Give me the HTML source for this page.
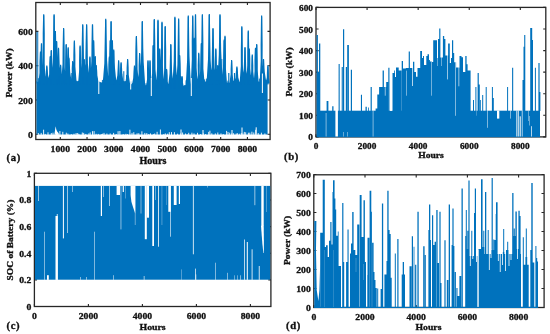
<!DOCTYPE html>
<html lang="en"><head><meta charset="utf-8"><title>Figure</title>
<style>html,body{margin:0;padding:0;background:#fff}svg{display:block}text{font-family:'Liberation Serif', serif;font-weight:bold;fill:#111;stroke:#111;stroke-width:.34px}</style>
</head><body>
<svg width="550" height="334" viewBox="0 0 550 334">
<rect width="550" height="334" fill="#fff"/>
<defs>
<clipPath id="clip-a"><rect x="36.3" y="3.0" width="233.30" height="137.10"/></clipPath>
<clipPath id="clip-b"><rect x="316.5" y="7.9" width="228.80" height="129.60"/></clipPath>
<clipPath id="clip-c"><rect x="34.9" y="173.8" width="235.50" height="133.30"/></clipPath>
<clipPath id="clip-d"><rect x="314.3" y="175.3" width="229.30" height="132.80"/></clipPath>
</defs>
<g id="plot-a">
<path d="M60.30 139.5v-2.6M60.30 2.5v2.6" stroke="#262626" stroke-width="1.1" fill="none"/>
<text transform="translate(60.3 152.4) scale(1 0.94)" font-size="9.7" text-anchor="middle">1000</text>
<path d="M87.03 139.5v-2.6M87.03 2.5v2.6" stroke="#262626" stroke-width="1.1" fill="none"/>
<text transform="translate(87.03 152.4) scale(1 0.94)" font-size="9.7" text-anchor="middle">2000</text>
<path d="M113.76 139.5v-2.6M113.76 2.5v2.6" stroke="#262626" stroke-width="1.1" fill="none"/>
<text transform="translate(113.76 152.4) scale(1 0.94)" font-size="9.7" text-anchor="middle">3000</text>
<path d="M140.49 139.5v-2.6M140.49 2.5v2.6" stroke="#262626" stroke-width="1.1" fill="none"/>
<text transform="translate(140.49 152.4) scale(1 0.94)" font-size="9.7" text-anchor="middle">4000</text>
<path d="M167.22 139.5v-2.6M167.22 2.5v2.6" stroke="#262626" stroke-width="1.1" fill="none"/>
<text transform="translate(167.22 152.4) scale(1 0.94)" font-size="9.7" text-anchor="middle">5000</text>
<path d="M193.95 139.5v-2.6M193.95 2.5v2.6" stroke="#262626" stroke-width="1.1" fill="none"/>
<text transform="translate(193.95 152.4) scale(1 0.94)" font-size="9.7" text-anchor="middle">6000</text>
<path d="M220.68 139.5v-2.6M220.68 2.5v2.6" stroke="#262626" stroke-width="1.1" fill="none"/>
<text transform="translate(220.68 152.4) scale(1 0.94)" font-size="9.7" text-anchor="middle">7000</text>
<path d="M247.41 139.5v-2.6M247.41 2.5v2.6" stroke="#262626" stroke-width="1.1" fill="none"/>
<text transform="translate(247.41 152.4) scale(1 0.94)" font-size="9.7" text-anchor="middle">8000</text>
<path d="M35.8 134.30h2.6M270.1 134.30h-2.6" stroke="#262626" stroke-width="1.1" fill="none"/>
<text transform="translate(32.8 137.8) scale(1 0.94)" font-size="9.7" text-anchor="end">0</text>
<path d="M35.8 100.00h2.6M270.1 100.00h-2.6" stroke="#262626" stroke-width="1.1" fill="none"/>
<text transform="translate(32.8 103.5) scale(1 0.94)" font-size="9.7" text-anchor="end">200</text>
<path d="M35.8 65.70h2.6M270.1 65.70h-2.6" stroke="#262626" stroke-width="1.1" fill="none"/>
<text transform="translate(32.8 69.2) scale(1 0.94)" font-size="9.7" text-anchor="end">400</text>
<path d="M35.8 31.40h2.6M270.1 31.40h-2.6" stroke="#262626" stroke-width="1.1" fill="none"/>
<text transform="translate(32.8 34.9) scale(1 0.94)" font-size="9.7" text-anchor="end">600</text>
<rect x="35.8" y="2.5" width="234.30" height="137.00" fill="none" stroke="#262626" stroke-width="1.3"/>
<g class="d" clip-path="url(#clip-a)">
<polygon fill="#0072BD" points="36.3,134.6 36.3,81.0 37.8,81.9 39.1,81.6 41.0,80.4 43.1,80.3 45.1,80.4 46.4,81.3 49.1,80.5 50.7,81.8 53.6,81.7 55.5,82.7 56.8,82.4 58.5,80.6 59.9,81.0 62.6,80.7 64.9,81.9 66.7,81.6 68.0,80.4 69.6,82.0 71.6,81.0 73.8,81.4 75.6,82.3 78.0,80.8 80.3,81.6 83.0,82.1 84.8,82.7 86.2,81.3 88.7,80.6 90.8,80.3 93.2,82.2 95.5,82.5 97.2,82.0 99.5,81.7 101.5,82.4 104.4,81.4 106.8,80.4 109.3,81.9 112.3,82.3 114.0,81.2 116.4,80.3 118.4,80.6 119.8,80.4 122.4,80.5 124.0,81.2 126.8,81.0 128.8,82.8 131.6,84.3 134.4,83.7 136.3,84.5 139.1,86.9 140.6,85.2 142.2,85.3 144.3,86.2 145.9,84.7 147.9,85.7 150.1,87.2 152.6,86.0 154.9,86.5 156.2,87.0 158.8,87.0 161.4,85.7 163.3,85.0 165.7,84.9 167.0,85.2 168.5,85.6 169.8,84.7 171.2,85.0 173.1,84.8 175.9,86.3 177.3,85.4 179.2,85.6 180.6,86.9 183.6,85.9 185.6,84.9 187.0,85.6 188.7,86.9 190.2,84.8 193.1,86.1 194.6,86.1 195.8,85.7 198.8,85.2 201.2,82.6 203.1,81.5 205.7,81.6 208.3,81.1 209.9,82.3 212.9,82.4 215.5,82.3 218.0,80.8 220.2,81.1 221.4,80.3 223.1,80.9 225.6,82.7 227.6,82.6 230.6,82.7 232.4,80.8 234.0,80.7 235.6,81.8 238.4,82.4 240.5,81.9 243.1,80.4 245.5,82.6 248.1,82.2 250.2,80.7 252.8,81.1 255.4,82.7 257.3,81.2 260.3,82.1 261.8,80.5 263.2,82.6 265.9,80.6 267.6,81.5 267.6,134.6"/>
<path d="M41.5 43.2V84.5M43.7 14.2V84.5M51.3 50.0V84.5M54.1 14.2V84.5M55.4 31.0V84.5M56.6 41.0V84.5M58.5 47.7V84.5M63.6 28.0V84.5M66.2 43.9V84.5M68.2 47.2V84.5M74.4 40.5V84.5M80.1 45.6V84.5M82.7 24.3V84.5M86.6 24.3V84.5M92.5 24.3V84.5M93.6 40.2V84.5M105.7 18.8V84.5M111.1 20.9V84.5M112.4 40.2V84.5M113.7 49.4V84.5M136.4 36.0V87.9M139.6 53.0V88.9M142.3 21.0V89.0M153.2 45.0V89.0M154.3 18.9V89.0M158.0 19.8V89.0M159.7 48.6V89.0M162.0 21.8V89.0M165.2 26.0V89.0M170.8 43.9V89.0M174.9 16.8V89.0M178.6 18.4V89.0M188.3 15.6V89.0M192.7 15.6V89.0M194.2 37.7V89.0M195.5 14.2V88.8M198.7 52.8V87.3M201.4 43.0V86.1M202.4 14.2V85.7M209.3 13.9V84.5M213.0 28.1V84.5M215.8 48.6V84.5M220.0 14.2V84.5M224.2 39.4V84.5M225.0 35.7V84.5M241.8 26.3V84.5M245.0 46.9V84.5M248.3 30.5V84.5M249.3 48.6V84.5M252.3 54.4V84.5M255.5 47.7V84.5M256.7 43.9V84.5M261.6 15.4V84.5M40.5 51.5V84.5M46.8 65.4V84.5M50.3 56.0V84.5M60.6 64.7V84.5M68.9 57.8V84.5M72.7 61.0V84.5M84.2 59.0V84.5M89.9 56.6V84.5M95.2 56.0V84.5M96.2 65.0V84.5M109.4 56.6V84.5M110.3 40.0V84.5M118.6 60.3V84.5M121.1 62.2V84.5M127.6 59.0V85.3M134.5 65.4V87.3M148.0 60.3V89.0M150.0 60.3V89.0M161.6 51.5V89.0M166.6 69.0V89.0M179.6 55.0V89.0M182.0 76.0V89.0M217.8 65.0V84.5M228.8 73.0V84.5M231.6 60.0V84.5M234.5 73.0V84.5M236.9 66.6V84.5M263.5 59.0V84.5M267.9 65.4V84.5" stroke="#0072BD" stroke-width="1.2" fill="none"/>
<path d="M38.4 83.5L40.1 68.1L40.5 58.2L40.9 44.2L42.1 44.2L42.5 58.2L42.9 67.9L44.6 83.5ZM41.6 83.5L42.8 64.5L42.7 33.4L43.1 15.2L44.3 15.2L44.7 33.4L44.6 63.5L45.8 83.5ZM48.8 83.5L50.2 69.2L50.3 61.9L50.7 51.0L51.9 51.0L52.3 61.9L52.4 67.4L53.8 83.5ZM51.2 83.5L52.8 62.5L53.1 41.6L53.5 15.2L54.7 15.2L55.1 41.6L55.4 64.1L57.0 83.5ZM53.2 83.5L54.4 64.4L54.4 51.5L54.8 32.0L56.0 32.0L56.4 51.5L56.4 65.0L57.6 83.5ZM54.5 83.5L55.7 65.8L55.6 56.8L56.0 42.0L57.2 42.0L57.6 56.8L57.5 66.1L58.7 83.5ZM55.9 83.5L57.3 68.5L57.5 60.5L57.9 48.7L59.1 48.7L59.5 60.5L59.7 66.3L61.1 83.5ZM61.1 83.5L62.5 63.9L62.6 47.3L63.0 29.0L64.2 29.0L64.6 47.3L64.7 67.3L66.1 83.5ZM63.8 83.5L65.1 71.1L65.2 60.8L65.6 44.9L66.8 44.9L67.2 60.8L67.3 69.8L68.6 83.5ZM66.1 83.5L67.3 70.5L67.2 58.4L67.6 48.2L68.8 48.2L69.2 58.4L69.1 70.2L70.3 83.5ZM72.1 83.5L73.4 68.1L73.4 55.1L73.8 41.5L75.0 41.5L75.4 55.1L75.4 66.5L76.7 83.5ZM78.1 83.5L79.2 69.5L79.1 60.2L79.5 46.6L80.7 46.6L81.1 60.2L81.0 70.6L82.1 83.5ZM79.9 83.5L81.4 62.8L81.7 44.6L82.1 25.3L83.3 25.3L83.7 44.6L84.0 60.9L85.5 83.5ZM83.6 83.5L85.3 63.4L85.6 44.1L86.0 25.3L87.2 25.3L87.6 44.1L87.9 63.4L89.6 83.5ZM90.0 83.5L91.4 61.3L91.5 45.6L91.9 25.3L93.1 25.3L93.5 45.6L93.6 61.0L95.0 83.5ZM91.1 83.5L92.5 65.3L92.6 53.9L93.0 41.2L94.2 41.2L94.6 53.9L94.7 62.9L96.1 83.5ZM102.7 83.5L104.3 63.4L104.7 41.1L105.1 19.8L106.3 19.8L106.7 41.1L107.1 60.2L108.7 83.5ZM108.2 83.5L109.8 65.1L110.1 46.9L110.5 21.9L111.7 21.9L112.1 46.9L112.4 65.5L114.0 83.5ZM110.4 83.5L111.5 69.7L111.4 58.3L111.8 41.2L113.0 41.2L113.4 58.3L113.3 68.9L114.4 83.5ZM110.9 83.5L112.4 69.2L112.7 63.0L113.1 50.4L114.3 50.4L114.7 63.0L115.0 68.1L116.5 83.5ZM133.7 86.9L135.2 71.6L135.4 50.7L135.8 37.0L137.0 37.0L137.4 50.7L137.6 69.2L139.1 86.9ZM137.4 87.9L138.6 73.0L138.6 65.6L139.0 54.0L140.2 54.0L140.6 65.6L140.6 73.0L141.8 87.9ZM139.2 88.0L140.9 61.6L141.3 48.5L141.7 22.0L142.9 22.0L143.3 48.5L143.7 62.3L145.4 88.0ZM150.7 88.0L152.1 73.7L152.2 62.1L152.6 46.0L153.8 46.0L154.2 62.1L154.3 74.6L155.7 88.0ZM151.5 88.0L153.1 69.0L153.3 42.8L153.7 19.9L154.9 19.9L155.3 42.8L155.5 69.4L157.1 88.0ZM156.1 88.0L157.1 66.2L157.0 42.6L157.4 20.8L158.6 20.8L159.0 42.6L158.9 66.1L159.9 88.0ZM157.7 88.0L158.8 71.1L158.7 60.4L159.1 49.6L160.3 49.6L160.7 60.4L160.6 68.3L161.7 88.0ZM160.0 88.0L161.1 67.4L161.0 50.3L161.4 22.8L162.6 22.8L163.0 50.3L162.9 65.3L164.0 88.0ZM163.0 88.0L164.2 69.8L164.2 48.7L164.6 27.0L165.8 27.0L166.2 48.7L166.2 67.2L167.4 88.0ZM167.9 88.0L169.5 73.8L169.8 61.8L170.2 44.9L171.4 44.9L171.8 61.8L172.1 71.8L173.7 88.0ZM172.3 88.0L173.7 61.4L173.9 46.9L174.3 17.8L175.5 17.8L175.9 46.9L176.1 65.8L177.5 88.0ZM175.9 88.0L177.4 64.8L177.6 48.0L178.0 19.4L179.2 19.4L179.6 48.0L179.8 61.1L181.3 88.0ZM185.6 88.0L187.1 59.9L187.3 46.3L187.7 16.6L188.9 16.6L189.3 46.3L189.5 56.2L191.0 88.0ZM190.7 88.0L191.8 59.3L191.7 41.8L192.1 16.6L193.3 16.6L193.7 41.8L193.6 61.0L194.7 88.0ZM191.6 88.0L193.0 67.2L193.2 57.2L193.6 38.7L194.8 38.7L195.2 57.2L195.4 70.0L196.8 88.0ZM193.0 87.8L194.4 65.3L194.5 45.1L194.9 15.2L196.1 15.2L196.5 45.1L196.6 68.1L198.0 87.8ZM196.7 86.3L197.8 75.5L197.7 65.3L198.1 53.8L199.3 53.8L199.7 65.3L199.6 76.2L200.7 86.3ZM198.6 85.1L200.1 71.3L200.4 57.6L200.8 44.0L202.0 44.0L202.4 57.6L202.7 72.9L204.2 85.1ZM200.1 84.7L201.4 65.4L201.4 42.1L201.8 15.2L203.0 15.2L203.4 42.1L203.4 68.7L204.7 84.7ZM206.5 83.5L208.0 59.0L208.3 42.1L208.7 14.9L209.9 14.9L210.3 42.1L210.6 59.2L212.1 83.5ZM210.0 83.5L211.6 67.3L212.0 44.7L212.4 29.1L213.6 29.1L214.0 44.7L214.4 67.7L216.0 83.5ZM213.3 83.5L214.7 69.2L214.8 61.2L215.2 49.6L216.4 49.6L216.8 61.2L216.9 69.1L218.3 83.5ZM217.3 83.5L218.8 54.8L219.0 40.6L219.4 15.2L220.6 15.2L221.0 40.6L221.2 51.2L222.7 83.5ZM221.5 83.5L223.0 67.0L223.2 55.4L223.6 40.4L224.8 40.4L225.2 55.4L225.4 67.8L226.9 83.5ZM223.0 83.5L224.1 69.2L224.0 55.8L224.4 36.7L225.6 36.7L226.0 55.8L225.9 68.0L227.0 83.5ZM239.6 83.5L240.8 66.3L240.8 50.3L241.2 27.3L242.4 27.3L242.8 50.3L242.8 64.3L244.0 83.5ZM242.1 83.5L243.7 69.4L244.0 60.8L244.4 47.9L245.6 47.9L246.0 60.8L246.3 70.6L247.9 83.5ZM246.0 83.5L247.3 65.2L247.3 52.1L247.7 31.5L248.9 31.5L249.3 52.1L249.3 65.6L250.6 83.5ZM247.1 83.5L248.3 68.5L248.3 58.0L248.7 49.6L249.9 49.6L250.3 58.0L250.3 68.3L251.5 83.5ZM250.1 83.5L251.3 70.8L251.3 65.2L251.7 55.4L252.9 55.4L253.3 65.2L253.3 71.4L254.5 83.5ZM253.6 83.5L254.6 71.1L254.5 60.2L254.9 48.7L256.1 48.7L256.5 60.2L256.4 71.1L257.4 83.5ZM254.6 83.5L255.7 69.3L255.7 60.8L256.1 44.9L257.3 44.9L257.7 60.8L257.7 70.4L258.8 83.5ZM259.6 83.5L260.7 61.0L260.6 44.7L261.0 16.4L262.2 16.4L262.6 44.7L262.5 64.9L263.6 83.5ZM38.2 83.5L39.5 73.0L39.5 62.0L39.9 52.5L41.1 52.5L41.5 62.0L41.5 72.9L42.8 83.5ZM44.0 83.5L45.5 75.9L45.8 70.7L46.2 66.4L47.4 66.4L47.8 70.7L48.1 75.0L49.6 83.5ZM47.9 83.5L49.2 73.9L49.3 63.2L49.7 57.0L50.9 57.0L51.3 63.2L51.4 74.9L52.7 83.5ZM57.8 83.5L59.4 75.7L59.6 72.1L60.0 65.7L61.2 65.7L61.6 72.1L61.8 74.9L63.4 83.5ZM65.9 83.5L67.6 73.3L67.9 65.5L68.3 58.8L69.5 58.8L69.9 65.5L70.2 72.3L71.9 83.5ZM70.6 83.5L71.8 74.8L71.7 68.5L72.1 62.0L73.3 62.0L73.7 68.5L73.6 73.9L74.8 83.5ZM81.3 83.5L82.9 73.1L83.2 66.9L83.6 60.0L84.8 60.0L85.2 66.9L85.5 71.8L87.1 83.5ZM87.2 83.5L88.7 72.7L88.9 66.8L89.3 57.6L90.5 57.6L90.9 66.8L91.1 74.3L92.6 83.5ZM93.1 83.5L94.3 73.7L94.2 67.0L94.6 57.0L95.8 57.0L96.2 67.0L96.1 72.7L97.3 83.5ZM93.6 83.5L95.0 75.8L95.2 70.7L95.6 66.0L96.8 66.0L97.2 70.7L97.4 75.4L98.8 83.5ZM106.9 83.5L108.3 75.3L108.4 64.4L108.8 57.6L110.0 57.6L110.4 64.4L110.5 74.6L111.9 83.5ZM107.8 83.5L109.2 67.8L109.3 54.0L109.7 41.0L110.9 41.0L111.3 54.0L111.4 70.2L112.8 83.5ZM115.8 83.5L117.3 75.4L117.6 69.6L118.0 61.3L119.2 61.3L119.6 69.6L119.9 76.0L121.4 83.5ZM118.3 83.5L119.9 76.1L120.1 68.5L120.5 63.2L121.7 63.2L122.1 68.5L122.3 75.0L123.9 83.5ZM125.1 84.3L126.5 75.1L126.6 67.6L127.0 60.0L128.2 60.0L128.6 67.6L128.7 74.6L130.1 84.3ZM131.7 86.3L133.2 77.9L133.5 71.9L133.9 66.4L135.1 66.4L135.5 71.9L135.8 79.0L137.3 86.3ZM145.9 88.0L147.1 78.6L147.0 68.6L147.4 61.3L148.6 61.3L149.0 68.6L148.9 79.2L150.1 88.0ZM147.4 88.0L148.8 79.5L149.0 71.6L149.4 61.3L150.6 61.3L151.0 71.6L151.2 80.1L152.6 88.0ZM158.9 88.0L160.4 73.8L160.6 63.1L161.0 52.5L162.2 52.5L162.6 63.1L162.8 74.8L164.3 88.0ZM164.1 88.0L165.5 80.6L165.6 75.3L166.0 70.0L167.2 70.0L167.6 75.3L167.7 81.4L169.1 88.0ZM176.6 88.0L178.3 77.3L178.6 63.8L179.0 56.0L180.2 56.0L180.6 63.8L180.9 75.8L182.6 88.0ZM180.1 88.0L181.1 82.8L181.0 79.1L181.4 77.0L182.6 77.0L183.0 79.1L182.9 82.2L183.9 88.0ZM215.4 83.5L216.7 76.7L216.8 71.8L217.2 66.0L218.4 66.0L218.8 71.8L218.9 75.9L220.2 83.5ZM229.4 83.5L230.6 74.2L230.6 69.2L231.0 61.0L232.2 61.0L232.6 69.2L232.6 74.2L233.8 83.5ZM233.9 83.5L235.5 77.5L235.9 71.2L236.3 67.6L237.5 67.6L237.9 71.2L238.3 77.5L239.9 83.5ZM260.5 83.5L262.2 73.5L262.5 68.2L262.9 60.0L264.1 60.0L264.5 68.2L264.8 72.2L266.5 83.5ZM265.4 83.5L266.8 77.4L266.9 72.6L267.3 66.4L268.5 66.4L268.9 72.6L269.0 77.4L270.4 83.5Z" fill="#0072BD"/>
<path d="M38.3 78.2V84.5M40.2 80.1V84.5M42.5 78.3V84.5M44.0 74.9V84.5M47.4 80.1V84.5M51.2 79.5V84.5M54.5 78.6V84.5M56.9 79.3V84.5M59.4 76.3V84.5M61.8 81.0V84.5M64.4 80.8V84.5M66.1 79.9V84.5M69.7 79.2V84.5M71.8 73.0V84.5M74.0 78.7V84.5M76.4 80.8V84.5M80.3 76.2V84.5M83.4 76.7V84.5M87.2 76.9V84.5M90.5 79.4V84.5M92.1 80.6V84.5M95.5 77.2V84.5M98.6 80.7V84.5M102.4 79.9V84.5M104.2 77.8V84.5M106.5 80.4V84.5M109.8 78.3V84.5M113.0 80.6V84.5M115.2 77.7V84.5M117.1 79.8V84.5M119.0 79.0V84.5M121.8 73.7V84.5M123.8 71.2V84.5M126.5 74.9V84.9M128.3 81.5V85.5M130.7 81.3V86.2M132.4 83.0V86.7M135.3 81.4V87.6M139.0 85.2V88.7M141.6 81.9V89.0M144.4 83.2V89.0M146.0 83.3V89.0M148.2 83.7V89.0M151.0 85.1V89.0M154.1 83.9V89.0M156.2 83.6V89.0M158.4 82.4V89.0M162.2 83.3V89.0M165.9 85.0V89.0M167.5 85.0V89.0M170.7 82.4V89.0M173.7 83.1V89.0M175.2 79.3V89.0M178.8 80.5V89.0M182.4 82.9V89.0M184.2 85.0V89.0M186.1 80.3V89.0M189.9 84.8V89.0M193.2 81.9V89.0M195.9 80.4V88.6M198.7 77.9V87.3M200.8 81.4V86.4M204.6 79.4V84.7M206.4 78.6V84.5M208.6 77.4V84.5M210.3 76.9V84.5M212.0 76.4V84.5M214.5 80.3V84.5M216.6 80.6V84.5M218.8 80.7V84.5M221.5 76.1V84.5M225.2 79.7V84.5M227.9 80.7V84.5M231.8 78.4V84.5M235.0 80.7V84.5M237.8 80.3V84.5M240.9 78.6V84.5M244.1 79.7V84.5M247.9 80.9V84.5M250.3 80.1V84.5M252.8 80.0V84.5M256.3 78.9V84.5M259.7 78.6V84.5M263.6 80.9V84.5M265.9 79.9V84.5" stroke="#0072BD" stroke-width="1.0" fill="none"/>
<rect x="35.7" y="31.8" width="2.6" height="51.7" fill="#0072BD" opacity="0.75"/>
<rect x="220.5" y="59.0" width="2.0" height="24.5" fill="#0072BD" opacity="0.60"/>
<path d="M98.8 73.5V94.0M130.7 75.2V89.5M151.3 78.0V96.0M191.3 78.0V96.0M262.4 73.5V93.0" stroke="#fff" stroke-width="1.0" fill="none"/>
<path d="M38.3 133.0V135.1M41.2 132.9V135.1M43.6 129.7V135.1M45.2 133.9V135.1M48.0 132.3V135.1M51.3 133.0V135.1M53.0 132.7V135.1M56.5 133.8V135.1M57.8 133.7V135.1M59.9 131.0V135.1M62.8 131.8V135.1M66.3 132.7V135.1M67.9 133.5V135.1M71.3 134.2V135.1M74.0 133.7V135.1M76.1 133.0V135.1M77.7 133.0V135.1M78.9 133.9V135.1M82.3 132.5V135.1M83.7 132.9V135.1M85.8 133.9V135.1M88.9 133.3V135.1M90.2 132.4V135.1M92.5 131.2V135.1M94.1 131.1V135.1M96.1 133.8V135.1M98.3 133.9V135.1M101.3 134.1V135.1M102.6 133.7V135.1M104.0 132.9V135.1M106.9 133.5V135.1M110.2 133.4V135.1M113.6 132.9V135.1M116.2 134.0V135.1M118.1 131.2V135.1M119.9 131.0V135.1M123.2 134.1V135.1M125.9 133.8V135.1M127.6 134.1V135.1M129.9 129.7V135.1M132.0 132.9V135.1M133.8 132.2V135.1M137.1 133.3V135.1M138.8 133.2V135.1M141.9 131.3V135.1M144.8 132.9V135.1M146.8 133.1V135.1M148.8 134.0V135.1M150.5 133.4V135.1M153.4 134.2V135.1M154.7 133.5V135.1M157.1 131.8V135.1M160.4 129.5V135.1M163.8 134.1V135.1M165.3 133.4V135.1M167.6 133.7V135.1M169.3 132.2V135.1M171.5 132.1V135.1M174.4 132.2V135.1M177.6 133.7V135.1M180.7 133.4V135.1M182.6 132.5V135.1M185.5 133.5V135.1M187.1 134.2V135.1M188.7 132.8V135.1M191.9 132.7V135.1M194.0 133.4V135.1M197.5 132.8V135.1M200.6 134.1V135.1M203.3 133.3V135.1M205.6 134.1V135.1M208.7 131.9V135.1M209.9 130.7V135.1M211.8 133.3V135.1M215.3 133.4V135.1M217.8 132.5V135.1M221.0 133.4V135.1M223.2 134.0V135.1M226.6 130.9V135.1M228.0 132.0V135.1M229.7 132.7V135.1M231.8 133.4V135.1M233.6 133.2V135.1M236.2 133.5V135.1M237.4 133.2V135.1M239.3 133.7V135.1M241.3 133.1V135.1M242.9 133.5V135.1M244.3 131.9V135.1M245.7 132.3V135.1M248.4 132.7V135.1M249.8 132.7V135.1M251.9 131.7V135.1M253.8 132.5V135.1M255.7 129.8V135.1M258.2 133.0V135.1M261.4 132.7V135.1M264.9 133.4V135.1" stroke="#fff" stroke-width="0.9" fill="none"/>
<path d="M242 134.8V127.5M256.2 134.8V127.3M232 134.8V130M181 134.8V129.5M203 134.8V130" stroke="#fff" stroke-width="1" fill="none"/>
<polygon fill="#fff" points="54.4,134.8 55.2,129 55.7,126.3 56.3,129.5 57.2,131.5 58.5,133 59,134.8"/>
</g>
<text transform="translate(11.8 73.0) rotate(-90) scale(1 0.94)" font-size="9.5" text-anchor="middle">Power (kW)</text>
<text transform="translate(152.9 163.6) scale(1 0.94)" font-size="10.1" text-anchor="middle">Hours</text>
<text transform="translate(6.6 160.9)" font-size="10.7" text-anchor="start" letter-spacing="0.65">(a)</text>
</g>
<g id="plot-b">
<path d="M316.00 136.9v-2.6M316.00 7.4v2.6" stroke="#262626" stroke-width="1.1" fill="none"/>
<text transform="translate(316.0 148.7) scale(1 0.94)" font-size="9.3" text-anchor="middle">0</text>
<path d="M367.08 136.9v-2.6M367.08 7.4v2.6" stroke="#262626" stroke-width="1.1" fill="none"/>
<text transform="translate(367.08 148.7) scale(1 0.94)" font-size="9.3" text-anchor="middle">2000</text>
<path d="M418.16 136.9v-2.6M418.16 7.4v2.6" stroke="#262626" stroke-width="1.1" fill="none"/>
<text transform="translate(418.16 148.7) scale(1 0.94)" font-size="9.3" text-anchor="middle">4000</text>
<path d="M469.24 136.9v-2.6M469.24 7.4v2.6" stroke="#262626" stroke-width="1.1" fill="none"/>
<text transform="translate(469.24 148.7) scale(1 0.94)" font-size="9.3" text-anchor="middle">6000</text>
<path d="M520.32 136.9v-2.6M520.32 7.4v2.6" stroke="#262626" stroke-width="1.1" fill="none"/>
<text transform="translate(520.32 148.7) scale(1 0.94)" font-size="9.3" text-anchor="middle">8000</text>
<path d="M316.0 136.90h2.6M545.8 136.90h-2.6" stroke="#262626" stroke-width="1.1" fill="none"/>
<text transform="translate(313.0 140.4) scale(1 0.94)" font-size="9.3" text-anchor="end">0</text>
<path d="M316.0 115.32h2.6M545.8 115.32h-2.6" stroke="#262626" stroke-width="1.1" fill="none"/>
<text transform="translate(313.0 118.82) scale(1 0.94)" font-size="9.3" text-anchor="end">100</text>
<path d="M316.0 93.74h2.6M545.8 93.74h-2.6" stroke="#262626" stroke-width="1.1" fill="none"/>
<text transform="translate(313.0 97.24) scale(1 0.94)" font-size="9.3" text-anchor="end">200</text>
<path d="M316.0 72.16h2.6M545.8 72.16h-2.6" stroke="#262626" stroke-width="1.1" fill="none"/>
<text transform="translate(313.0 75.66) scale(1 0.94)" font-size="9.3" text-anchor="end">300</text>
<path d="M316.0 50.58h2.6M545.8 50.58h-2.6" stroke="#262626" stroke-width="1.1" fill="none"/>
<text transform="translate(313.0 54.08) scale(1 0.94)" font-size="9.3" text-anchor="end">400</text>
<path d="M316.0 29.00h2.6M545.8 29.00h-2.6" stroke="#262626" stroke-width="1.1" fill="none"/>
<text transform="translate(313.0 32.5) scale(1 0.94)" font-size="9.3" text-anchor="end">500</text>
<path d="M316.0 7.42h2.6M545.8 7.42h-2.6" stroke="#262626" stroke-width="1.1" fill="none"/>
<text transform="translate(313.0 10.92) scale(1 0.94)" font-size="9.3" text-anchor="end">600</text>
<rect x="316.0" y="7.4" width="229.80" height="129.50" fill="none" stroke="#262626" stroke-width="1.3"/>
<g class="d" clip-path="url(#clip-b)">
<rect x="316.2" y="110.7" width="223.8" height="26.7" fill="#0072BD"/>
<path d="M316.2 111.0H316.2V35.1H317.9V72.0H319.0V43.5H320.3V111.0H326.6V101.0H328.4V111.0H332.2V106.2H333.5V111.0H338.6V63.9H339.7V111.0H341.7V67.0H342.8V111.0H343.0V29.2H344.2V111.0H345.8V67.0H347.0V111.0H347.2V45.1H348.9V111.0H350.8V69.8H352.0V111.0H360.9V94.7H362.0V111.0H365.5V106.8H366.8V111.0H368.2V107.5H369.0V111.0H370.6V87.1H371.8V111.0H375.6V108.5H377.3V94.6H379.1V86.9H382.6V70.4H383.9V86.9H386.2V82.0H388.2V111.0H388.3V67.8H389.6V111.0H392.3V73.0H394.2V70.6H395.0V77.0H396.0V67.4H398.7V70.6H401.5V111.0H401.7V61.0H403.0V68.5H405.8V68.0H408.7V51.6H409.9V68.0H413.0V61.7H414.3V72.0H416.0V76.8H417.5V68.0H420.2V51.0H422.0V58.0H423.0V56.0H424.0V65.0H426.3V56.0H427.5V54.2H429.0V60.0H429.9V61.5H431.7V62.0H433.2V40.3H437.0V58.0H438.0V39.0H439.2V28.4H440.4V57.5H442.9V36.0H444.2V39.0H445.4V55.5H448.1V43.5H449.8V63.0H451.0V58.0H452.0V40.3H453.2V53.0H454.2V62.3H456.1V67.4H459.5V56.0H461.5V57.3H463.0V72.0H465.3V56.0H466.6V64.3H467.6V70.6H470.6V111.0H473.0V100.0H474.0V111.0H475.4V86.9H476.4V111.0H477.6V73.1H478.8V84.4H479.8V111.0H480.0V100.0H480.8V111.0H482.2V95.0H483.2V111.0H485.7V87.0H486.7V111.0H491.9V87.0H492.9V98.0H493.8V111.0H507.1V87.0H508.1V111.0H512.1V67.8H513.2V111.0H522.5V80.0H523.5V46.8H524.2V35.1H525.3V111.0H530.2V28.0H532.2V40.1H533.0V111.0H534.9V67.8H535.9V111.0H538.4V63.1H539.6V92.0H540.4V111.0H540.4V111.0Z" fill="#0072BD"/>
<rect x="325.8" y="113" width="0.50" height="23.5" fill="#fff" opacity="1"/>
<rect x="335.4" y="100" width="2.50" height="36.5" fill="#fff" opacity="1"/>
<rect x="372.8" y="110.5" width="0.50" height="26.0" fill="#fff" opacity="1"/>
<rect x="389.8" y="60" width="2.50" height="50.8" fill="#fff" opacity="1"/>
<rect x="384.8" y="86.9" width="0.80" height="8.8" fill="#fff" opacity="0.7"/>
<rect x="406.0" y="70.6" width="0.50" height="25.1" fill="#fff" opacity="0.9"/>
<rect x="412.2" y="68" width="0.70" height="18.0" fill="#fff" opacity="1"/>
<rect x="431.1" y="62" width="0.50" height="33.7" fill="#fff" opacity="0.9"/>
<rect x="447.3" y="55" width="0.60" height="24.4" fill="#fff" opacity="1"/>
<rect x="455.5" y="62" width="0.50" height="53.8" fill="#fff" opacity="1"/>
<rect x="458.6" y="67" width="0.60" height="19.3" fill="#fff" opacity="1"/>
<rect x="437.5" y="58" width="0.40" height="8.0" fill="#fff" opacity="1"/>
<rect x="441.2" y="57" width="0.40" height="9.0" fill="#fff" opacity="1"/>
<rect x="476.5" y="110.5" width="0.40" height="5.2" fill="#fff" opacity="0.6"/>
<rect x="487.2" y="110.5" width="0.50" height="17.3" fill="#fff" opacity="1"/>
<rect x="497" y="110.5" width="2.30" height="8.1" fill="#fff" opacity="1"/>
<rect x="510.1" y="110.5" width="0.50" height="8.1" fill="#fff" opacity="1"/>
<rect x="516.4" y="110.5" width="0.90" height="26.0" fill="#fff" opacity="1"/>
<rect x="517.9" y="110.5" width="0.80" height="26.0" fill="#fff" opacity="1"/>
<rect x="519.7" y="116.3" width="1.00" height="20.2" fill="#fff" opacity="1"/>
<rect x="521.7" y="110.5" width="1.10" height="26.0" fill="#fff" opacity="0.6"/>
<rect x="528.1" y="110.5" width="0.40" height="10.5" fill="#fff" opacity="1"/>
<rect x="529.2" y="116" width="0.40" height="9.5" fill="#fff" opacity="1"/>
<rect x="531.3" y="126.2" width="0.70" height="10.3" fill="#fff" opacity="1"/>
<rect x="343.4" y="132" width="0.40" height="4.5" fill="#fff" opacity="1"/>
<rect x="347.1" y="132" width="0.40" height="4.5" fill="#fff" opacity="1"/>
</g>
<text transform="translate(292 71.9) rotate(-90) scale(1 0.94)" font-size="9.5" text-anchor="middle">Power (kW)</text>
<text transform="translate(431 158.3) scale(1 0.94)" font-size="9.6" text-anchor="middle">Hours</text>
<text transform="translate(284.0 160.4)" font-size="10.7" text-anchor="start" letter-spacing="0.65">(b)</text>
</g>
<g id="plot-c">
<path d="M34.40 306.5v-2.6M34.40 173.3v2.6" stroke="#262626" stroke-width="1.1" fill="none"/>
<text transform="translate(34.4 319.0) scale(1 0.94)" font-size="9.7" text-anchor="middle">0</text>
<path d="M88.40 306.5v-2.6M88.40 173.3v2.6" stroke="#262626" stroke-width="1.1" fill="none"/>
<text transform="translate(88.4 319.0) scale(1 0.94)" font-size="9.7" text-anchor="middle">2000</text>
<path d="M142.40 306.5v-2.6M142.40 173.3v2.6" stroke="#262626" stroke-width="1.1" fill="none"/>
<text transform="translate(142.4 319.0) scale(1 0.94)" font-size="9.7" text-anchor="middle">4000</text>
<path d="M196.40 306.5v-2.6M196.40 173.3v2.6" stroke="#262626" stroke-width="1.1" fill="none"/>
<text transform="translate(196.4 319.0) scale(1 0.94)" font-size="9.7" text-anchor="middle">6000</text>
<path d="M250.40 306.5v-2.6M250.40 173.3v2.6" stroke="#262626" stroke-width="1.1" fill="none"/>
<text transform="translate(250.4 319.0) scale(1 0.94)" font-size="9.7" text-anchor="middle">8000</text>
<path d="M34.4 306.50h2.6M270.9 306.50h-2.6" stroke="#262626" stroke-width="1.1" fill="none"/>
<text transform="translate(31.4 310.0) scale(1 0.94)" font-size="9.7" text-anchor="end">0</text>
<path d="M34.4 279.86h2.6M270.9 279.86h-2.6" stroke="#262626" stroke-width="1.1" fill="none"/>
<text transform="translate(31.4 283.36) scale(1 0.94)" font-size="9.7" text-anchor="end">0.2</text>
<path d="M34.4 253.22h2.6M270.9 253.22h-2.6" stroke="#262626" stroke-width="1.1" fill="none"/>
<text transform="translate(31.4 256.72) scale(1 0.94)" font-size="9.7" text-anchor="end">0.4</text>
<path d="M34.4 226.58h2.6M270.9 226.58h-2.6" stroke="#262626" stroke-width="1.1" fill="none"/>
<text transform="translate(31.4 230.08) scale(1 0.94)" font-size="9.7" text-anchor="end">0.6</text>
<path d="M34.4 199.94h2.6M270.9 199.94h-2.6" stroke="#262626" stroke-width="1.1" fill="none"/>
<text transform="translate(31.4 203.44) scale(1 0.94)" font-size="9.7" text-anchor="end">0.8</text>
<path d="M34.4 173.30h2.6M270.9 173.30h-2.6" stroke="#262626" stroke-width="1.1" fill="none"/>
<text transform="translate(31.4 176.8) scale(1 0.94)" font-size="9.7" text-anchor="end">1</text>
<rect x="34.4" y="173.3" width="236.50" height="133.20" fill="none" stroke="#262626" stroke-width="1.3"/>
<g class="d" clip-path="url(#clip-c)">
<rect x="34.8" y="185.9" width="235.7" height="93.8" fill="#0072BD"/>
<rect x="38.1" y="185.70000000000002" width="0.60" height="15.3" fill="#fff" opacity="1"/>
<rect x="62.9" y="185.70000000000002" width="1.00" height="52.7" fill="#fff" opacity="1"/>
<rect x="67.4" y="185.70000000000002" width="0.60" height="47.3" fill="#fff" opacity="1"/>
<rect x="72" y="185.70000000000002" width="0.50" height="6.3" fill="#fff" opacity="1"/>
<rect x="100.8" y="185.70000000000002" width="1.20" height="30.3" fill="#fff" opacity="1"/>
<rect x="103" y="185.70000000000002" width="0.50" height="11.3" fill="#fff" opacity="1"/>
<rect x="109.1" y="185.70000000000002" width="0.60" height="20.3" fill="#fff" opacity="1"/>
<rect x="116.6" y="185.70000000000002" width="3.40" height="9.3" fill="#fff" opacity="1"/>
<rect x="120.5" y="185.70000000000002" width="0.90" height="43.7" fill="#fff" opacity="0.6"/>
<rect x="122.7" y="185.70000000000002" width="1.20" height="6.3" fill="#fff" opacity="1"/>
<rect x="125.3" y="185.70000000000002" width="0.50" height="12.8" fill="#fff" opacity="0.6"/>
<rect x="134.8" y="185.70000000000002" width="0.80" height="39.3" fill="#fff" opacity="0.5"/>
<rect x="140.6" y="185.70000000000002" width="0.80" height="27.8" fill="#fff" opacity="0.6"/>
<rect x="144.8" y="185.70000000000002" width="2.00" height="53.5" fill="#fff" opacity="1"/>
<rect x="146.8" y="185.70000000000002" width="2.20" height="32.0" fill="#fff" opacity="1"/>
<rect x="152.3" y="185.70000000000002" width="1.70" height="60.3" fill="#fff" opacity="1"/>
<rect x="155.5" y="185.70000000000002" width="0.40" height="14.3" fill="#fff" opacity="1"/>
<rect x="158.2" y="185.70000000000002" width="0.80" height="61.0" fill="#fff" opacity="1"/>
<rect x="161.7" y="185.70000000000002" width="0.50" height="39.3" fill="#fff" opacity="0.6"/>
<rect x="166.4" y="185.70000000000002" width="0.40" height="19.3" fill="#fff" opacity="0.6"/>
<rect x="168.3" y="185.70000000000002" width="2.50" height="26.1" fill="#fff" opacity="1"/>
<rect x="170" y="185.70000000000002" width="0.60" height="51.0" fill="#fff" opacity="1"/>
<rect x="173.8" y="185.70000000000002" width="2.80" height="19.3" fill="#fff" opacity="1"/>
<rect x="178.8" y="185.70000000000002" width="1.20" height="18.3" fill="#fff" opacity="1"/>
<rect x="192.9" y="185.70000000000002" width="0.80" height="68.6" fill="#fff" opacity="1"/>
<rect x="207" y="185.70000000000002" width="0.40" height="1.8" fill="#fff" opacity="1"/>
<rect x="254.6" y="185.70000000000002" width="0.60" height="19.5" fill="#fff" opacity="1"/>
<rect x="261.3" y="185.70000000000002" width="2.40" height="40.3" fill="#fff" opacity="1"/>
<rect x="266.5" y="185.70000000000002" width="0.50" height="26.3" fill="#fff" opacity="0.6"/>
<polygon fill="#fff" points="130.6,185.7 135.2,185.7 135.2,213.5 133,207 131.4,201.8 130.6,195"/>
<polygon fill="#fff" points="261.0,225.8 263.7,225.8 263.9,244 263.9,253 263.4,253 262.4,244"/>
<rect x="44.4" y="231.7" width="0.50" height="48.2" fill="#fff" opacity="1"/>
<rect x="55.5" y="216" width="2.30" height="63.9" fill="#fff" opacity="1"/>
<rect x="56.8" y="214" width="0.80" height="65.9" fill="#fff" opacity="1"/>
<rect x="94.1" y="231.7" width="0.50" height="48.2" fill="#fff" opacity="1"/>
<rect x="47" y="275.2" width="1.80" height="4.7" fill="#fff" opacity="1"/>
<rect x="80.5" y="277" width="0.50" height="2.9" fill="#fff" opacity="1"/>
<rect x="86.4" y="277" width="0.50" height="2.9" fill="#fff" opacity="1"/>
<rect x="113" y="275.2" width="0.50" height="4.7" fill="#fff" opacity="1"/>
<rect x="143.8" y="276" width="0.60" height="3.9" fill="#fff" opacity="1"/>
<rect x="181.5" y="269.4" width="0.40" height="10.5" fill="#fff" opacity="0.8"/>
<rect x="195.7" y="274.4" width="0.50" height="5.5" fill="#fff" opacity="1"/>
<rect x="195" y="268.6" width="0.70" height="11.3" fill="#fff" opacity="1"/>
<rect x="215.3" y="262.7" width="0.50" height="17.2" fill="#fff" opacity="1"/>
<rect x="227.4" y="272.8" width="0.50" height="7.1" fill="#fff" opacity="1"/>
<rect x="234.6" y="275.3" width="0.40" height="4.6" fill="#fff" opacity="1"/>
<rect x="237.2" y="275.3" width="0.40" height="4.6" fill="#fff" opacity="1"/>
<rect x="240.5" y="275.3" width="0.50" height="4.6" fill="#fff" opacity="1"/>
<rect x="244.1" y="239.5" width="0.90" height="40.4" fill="#fff" opacity="0.8"/>
<rect x="246.8" y="242" width="1.00" height="37.9" fill="#fff" opacity="1"/>
<rect x="251.6" y="249.3" width="1.00" height="30.6" fill="#fff" opacity="0.8"/>
<rect x="258.8" y="266" width="0.80" height="13.9" fill="#fff" opacity="1"/>
</g>
<text transform="translate(12.5 240.0) rotate(-90) scale(1 0.94)" font-size="9.5" text-anchor="middle">SOC of Battery (%)</text>
<text transform="translate(152.6 330.1) scale(1 0.94)" font-size="9.8" text-anchor="middle">Hours</text>
<text transform="translate(6.5 329.3)" font-size="10.7" text-anchor="start" letter-spacing="0.65">(c)</text>
</g>
<g id="plot-d">
<path d="M313.80 307.5v-2.6M313.80 174.8v2.6" stroke="#262626" stroke-width="1.1" fill="none"/>
<text transform="translate(313.8 319.6) scale(1 0.94)" font-size="9.7" text-anchor="middle">0</text>
<path d="M365.00 307.5v-2.6M365.00 174.8v2.6" stroke="#262626" stroke-width="1.1" fill="none"/>
<text transform="translate(365.0 319.6) scale(1 0.94)" font-size="9.7" text-anchor="middle">2000</text>
<path d="M416.20 307.5v-2.6M416.20 174.8v2.6" stroke="#262626" stroke-width="1.1" fill="none"/>
<text transform="translate(416.2 319.6) scale(1 0.94)" font-size="9.7" text-anchor="middle">4000</text>
<path d="M467.40 307.5v-2.6M467.40 174.8v2.6" stroke="#262626" stroke-width="1.1" fill="none"/>
<text transform="translate(467.4 319.6) scale(1 0.94)" font-size="9.7" text-anchor="middle">6000</text>
<path d="M518.60 307.5v-2.6M518.60 174.8v2.6" stroke="#262626" stroke-width="1.1" fill="none"/>
<text transform="translate(518.6 319.6) scale(1 0.94)" font-size="9.7" text-anchor="middle">8000</text>
<path d="M313.8 307.50h2.6M544.1 307.50h-2.6" stroke="#262626" stroke-width="1.1" fill="none"/>
<text transform="translate(310.8 311.0) scale(1 0.94)" font-size="9.7" text-anchor="end">0</text>
<path d="M313.8 288.50h2.6M544.1 288.50h-2.6" stroke="#262626" stroke-width="1.1" fill="none"/>
<text transform="translate(310.8 292.0) scale(1 0.94)" font-size="9.7" text-anchor="end">100</text>
<path d="M313.8 269.50h2.6M544.1 269.50h-2.6" stroke="#262626" stroke-width="1.1" fill="none"/>
<text transform="translate(310.8 273.0) scale(1 0.94)" font-size="9.7" text-anchor="end">200</text>
<path d="M313.8 250.50h2.6M544.1 250.50h-2.6" stroke="#262626" stroke-width="1.1" fill="none"/>
<text transform="translate(310.8 254.0) scale(1 0.94)" font-size="9.7" text-anchor="end">300</text>
<path d="M313.8 231.50h2.6M544.1 231.50h-2.6" stroke="#262626" stroke-width="1.1" fill="none"/>
<text transform="translate(310.8 235.0) scale(1 0.94)" font-size="9.7" text-anchor="end">400</text>
<path d="M313.8 212.50h2.6M544.1 212.50h-2.6" stroke="#262626" stroke-width="1.1" fill="none"/>
<text transform="translate(310.8 216.0) scale(1 0.94)" font-size="9.7" text-anchor="end">500</text>
<path d="M313.8 193.50h2.6M544.1 193.50h-2.6" stroke="#262626" stroke-width="1.1" fill="none"/>
<text transform="translate(310.8 197.0) scale(1 0.94)" font-size="9.7" text-anchor="end">600</text>
<path d="M313.8 174.50h2.6M544.1 174.50h-2.6" stroke="#262626" stroke-width="1.1" fill="none"/>
<text transform="translate(310.8 178.0) scale(1 0.94)" font-size="9.7" text-anchor="end">700</text>
<rect x="313.8" y="174.8" width="230.30" height="132.70" fill="none" stroke="#262626" stroke-width="1.3"/>
<g class="d" clip-path="url(#clip-d)">
<path d="M320.2 308.0H320.2V232.7H322.7V179.7H324.8V247.0H326.0V245.2H327.7V257.0H329.0V240.8H330.3V222.0H331.5V244.6H332.5V192.0H333.0V180.2H334.6V198.6H335.4V209.6H336.2V235.8H337.8V231.4H338.6V266.0H341.0V308.0H342.2V203.0H343.4V262.0H344.2V308.0H346.1V262.0H347.5V229.5H348.6V308.0H350.0V253.4H351.0V243.4H352.2V212.0H353.6V250.0H355.3V255.0H357.2V224.5H359.3V308.0H359.7V195.0H361.6V237.0H363.5V200.3H364.9V262.0H366.0V308.0H367.3V237.7H369.4V308.0H369.6V190.7H371.3V211.8H371.9V308.0H372.1V242.7H373.6V272.0H374.5V280.0H375.5V288.0H376.7V308.0H377.2V288.6H378.2V308.0H380.6V289.0H381.9V203.6H383.2V308.0H384.4V274.6H386.5V261.0H387.3V190.7H388.6V230.0H389.6V234.0H390.7V277.7H391.7V308.0H394.8V253.6H395.8V308.0H397.3V239.0H398.5V308.0H401.7V274.6H402.7V262.0H404.0V274.6H405.0V308.0H409.5V266.2H411.6V308.0H411.8V236.2H413.0V308.0H413.6V246.8H414.4V308.0H415.1V264.7H416.3V308.0H417.4V211.8H418.7V308.0H423.2V246.3H424.6V308.0H424.8V255.0H425.8V308.0H428.4V230.0H429.0V204.5H430.3V240.0H431.0V308.0H432.0V215.2H433.2V245.0H434.6V241.7H436.0V308.0H436.3V210.1H437.6V263.0H439.0V308.0H439.4V211.8H440.6V283.0H441.5V308.0H444.4V240.2H445.6V308.0H446.8V280.0H448.4V308.0H448.7V204.5H450.0V308.0H451.6V245.0H452.4V208.5H453.6V246.0H454.4V308.0H454.7V272.0H455.9V308.0H456.4V288.0H457.5V296.0H459.4V276.0H461.2V308.0H461.5V188.6H462.8V308.0H465.2V236.0H465.8V210.1H466.8V236.0H466.9V249.0H467.3V230.7H468.3V249.0H468.4V180.4H469.6V256.0H471.3V230.7H472.3V256.0H474.0V213.0H474.8V188.6H476.0V256.0H477.6V308.0H478.5V249.0H481.0V179.3H482.6V247.0H483.3V230.7H484.3V247.0H484.5V254.0H485.0V191.9H486.3V254.0H487.7V230.0H488.7V254.0H491.0V250.0H491.6V178.0H492.8V250.0H493.3V239.5H494.3V250.0H494.4V240.0H495.7V214.0H496.0V202.3H497.6V254.0H502.2V252.0H503.2V229.1H504.2V252.0H504.4V254.0H506.0V250.0H507.2V241.7H508.2V250.0H508.8V254.0H512.2V193.0H513.5V236.0H513.8V228.5H514.8V236.0H515.4V211.4H516.8V249.0H518.4V210.7H519.7V216.0H520.6V254.0H521.0V308.0H522.8V237.3H523.8V264.8H525.4V257.0H525.8V228.5H526.8V257.0H527.2V264.8H528.7V308.0H530.3V250.0H531.3V183.1H532.7V262.6H534.3V308.0H535.4V246.0H536.4V258.0H537.2V261.5H538.0V308.0H538.0V308.0Z" fill="#0072BD"/>
<polygon fill="#0072BD" points="313.9,308 313.9,221 316.4,221 316.0,250 316.7,290 318.4,301 319.4,290 320.2,264 320.2,308"/>
<rect x="313.8" y="306.9" width="224.4" height="1.2" fill="#0072BD"/>
<rect x="341.2" y="268" width="0.80" height="39.0" fill="#fff" opacity="1"/>
<rect x="349.3" y="225" width="0.70" height="73.4" fill="#fff" opacity="0.85"/>
<rect x="366" y="230" width="1.30" height="45.0" fill="#fff" opacity="1"/>
<rect x="477.6" y="250" width="0.80" height="57.0" fill="#fff" opacity="1"/>
<rect x="324.5" y="250" width="0.40" height="57.0" fill="#fff" opacity="0.4"/>
<rect x="333.5" y="250" width="0.40" height="57.0" fill="#fff" opacity="0.4"/>
<rect x="355.8" y="258" width="0.40" height="14.0" fill="#fff" opacity="0.5"/>
<rect x="363.6" y="264" width="0.40" height="16.0" fill="#fff" opacity="0.5"/>
<rect x="469.90000000000003" y="255.5" width="0.80" height="10.5" fill="#fff" opacity="1"/>
<rect x="472.40000000000003" y="255.5" width="0.80" height="3.5" fill="#fff" opacity="1"/>
<rect x="476.1" y="255.5" width="0.80" height="6.5" fill="#fff" opacity="1"/>
<rect x="488.90000000000003" y="253.5" width="0.80" height="16.5" fill="#fff" opacity="1"/>
<rect x="490.6" y="249.5" width="0.80" height="8.5" fill="#fff" opacity="1"/>
<rect x="497.90000000000003" y="253.5" width="0.80" height="7.5" fill="#fff" opacity="1"/>
<rect x="499.8" y="253.5" width="0.80" height="18.5" fill="#fff" opacity="1"/>
<rect x="502.1" y="251.5" width="0.80" height="13.5" fill="#fff" opacity="1"/>
<rect x="505.20000000000005" y="253.5" width="0.80" height="17.5" fill="#fff" opacity="1"/>
<rect x="508.6" y="249.5" width="0.80" height="16.5" fill="#fff" opacity="1"/>
<rect x="510.6" y="253.5" width="0.80" height="6.5" fill="#fff" opacity="1"/>
<rect x="517.1" y="248.5" width="0.80" height="10.5" fill="#fff" opacity="1"/>
</g>
<text transform="translate(290.2 240.4) rotate(-90) scale(1 0.94)" font-size="9.5" text-anchor="middle">Power (kW)</text>
<text transform="translate(428.5 329.9) scale(1 0.94)" font-size="9.7" text-anchor="middle">Hours</text>
<text transform="translate(286.0 329.0)" font-size="10.7" text-anchor="start" letter-spacing="0.65">(d)</text>
</g>
</svg></body></html>
